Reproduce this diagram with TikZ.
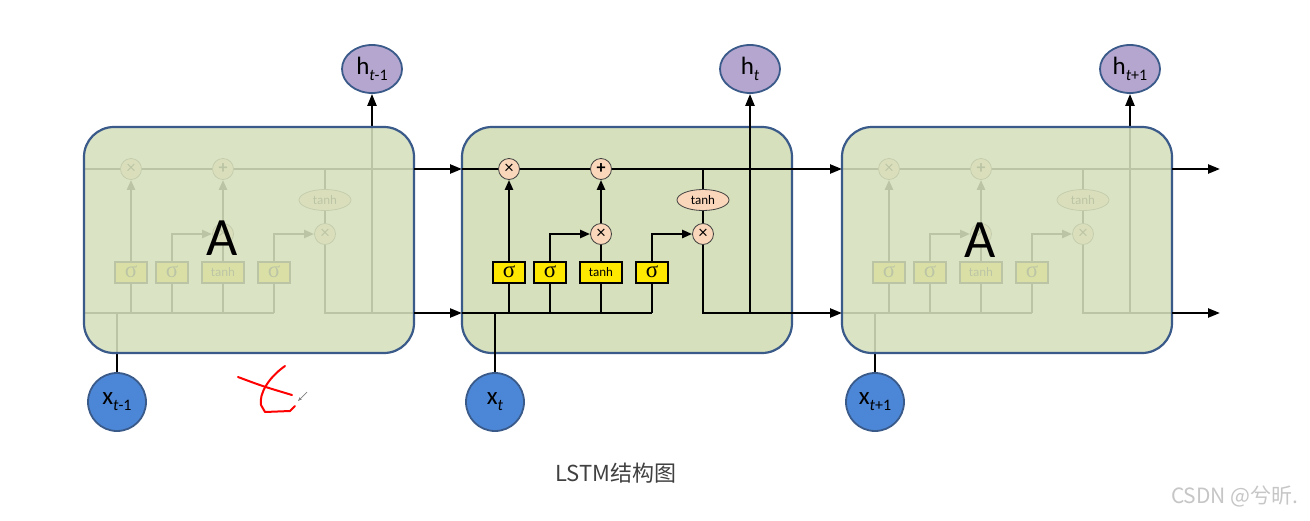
\documentclass[tikz,border=0pt]{standalone}
\usepackage{fontspec}
\setmainfont{Carlito}
\newfontfamily\cjkfont{Noto Sans CJK SC}
\newfontfamily\sigfont{Liberation Serif}
\usepackage{tikz}
\usetikzlibrary{arrows.meta,positioning,shapes.geometric}
\usepackage{xcolor}
\definecolor{cellgreen}{RGB}{214,224,188}
\definecolor{cellblue}{RGB}{58,90,138}
\definecolor{gateyellow}{RGB}{255,232,0}
\definecolor{oppeach}{RGB}{250,214,186}
\definecolor{hpurple}{RGB}{180,166,206}
\definecolor{xblue}{RGB}{76,134,214}
\definecolor{capgray}{RGB}{64,64,64}

\newcommand{\tsub}[1]{\raisebox{-6pt}{\fontsize{16}{16}\selectfont\itshape t\upshape #1}}

% one LSTM cell: #1 name, #2 shift, #3 h label, #4 x label
\newcommand{\cellparts}[4]{%
  \begin{scope}[xshift=#2pt]
    \coordinate (cl#1) at (462,169);
    \coordinate (cr#1) at (792,169);
    \coordinate (hl#1) at (462,313);
    \coordinate (hr#1) at (792,313);
    \coordinate (br#1) at (703,169);
    \coordinate (ob#1) at (703,313);
    \coordinate (bj#1) at (652,313);
    \coordinate (xj#1) at (495,313);
    \coordinate (hv#1) at (750,313);
    \node[opnode] (f#1) at (509,169) {×};
    \node[opnode] (p#1) at (601,169) {\textbf{+}};
    \node[opnode] (i#1) at (601,234) {×};
    \node[opnode] (o#1) at (703,234) {×};
    \node[thnode] (th#1) at (703,200) {tanh};
    \node[gatebox] (sf#1) at (509,272) {σ};
    \node[gatebox] (si#1) at (550,272) {σ};
    \node[gatebox,minimum width=42pt,font=\fontsize{13}{13}\selectfont] (tg#1) at (601,272) {tanh};
    \node[gatebox] (so#1) at (652,272) {σ};
    \node[hnode] (h#1) at (750,69) {#3};
    \node[xnode] (x#1) at (495,402) {#4};
    % cell state and hidden lines
    \draw[flow] (cl#1) -- (f#1) -- (p#1) -- (cr#1);
    \draw[flow] (br#1) -- (th#1) -- (o#1) -- (ob#1) -- (hr#1);
    \draw[flow] (hl#1) -- (bj#1);
    \draw[flow] (sf#1) -- (sf#1 |- hl#1);
    \draw[flow] (si#1) -- (si#1 |- hl#1);
    \draw[flow] (tg#1) -- (tg#1 |- hl#1);
    \draw[flow] (so#1) -- (bj#1);
    % gates
    \draw[arr] (sf#1) -- (f#1);
    \draw[arr] (si#1) |- (i#1);
    \draw[flow] (tg#1) -- (i#1);
    \draw[arr] (i#1) -- (p#1);
    \draw[arr] (so#1) |- (o#1);
    % input and output
    \draw[flow] (x#1) -- (xj#1);
    \draw[bigarr] (hv#1) -- (h#1);
  \end{scope}}

\begin{document}
\begin{tikzpicture}[
    x=1pt, y=-1pt,
    flow/.style={line width=2.3pt},
    arr/.style={flow,-{Triangle[length=10pt,width=8pt]}},
    bigarr/.style={flow,-{Triangle[length=12pt,width=9pt]}},
    cell/.style={rectangle,draw=cellblue,line width=2.2pt,fill=cellgreen,rounded corners=30pt,minimum width=330pt,minimum height=226pt},
    opnode/.style={circle,draw=black!75,line width=0.8pt,fill=oppeach,minimum size=21pt,inner sep=0,font=\fontsize{18}{18}\selectfont},
    thnode/.style={ellipse,draw=black!75,line width=0.8pt,fill=oppeach,minimum width=52pt,minimum height=21pt,inner sep=0,font=\fontsize{13}{13}\selectfont},
    gatebox/.style={rectangle,draw=black,line width=2pt,fill=gateyellow,minimum width=32pt,minimum height=21pt,inner sep=0,font=\sigfont\fontsize{23}{23}\selectfont},
    hnode/.style={ellipse,draw=cellblue,line width=1.8pt,fill=hpurple,minimum width=60pt,minimum height=48pt,inner sep=0,font=\fontsize{25}{25}\selectfont},
    xnode/.style={circle,draw=cellblue,line width=1.8pt,fill=xblue,minimum size=58pt,inner sep=0,font=\fontsize{25}{25}\selectfont},
  ]
  \fill[white] (0,0) rectangle (1310,520);
  \useasboundingbox (0,0) rectangle (1310,520);

  % faded neighbour cells
  \cellparts{L}{-378}{h\tsub{-1}}{x\tsub{-1}}
  \cellparts{R}{380}{h\tsub{+1}}{x\tsub{+1}}
  \node[cell,fill opacity=0.88] (boxL) at (249,240) {};
  \node[cell,fill opacity=0.88] (boxR) at (1007,240) {};
  \node[font=\fontsize{54}{54}\selectfont] (aL) at (222,238) {A};
  \node[font=\fontsize{54}{54}\selectfont] (aR) at (980,240) {A};

  % middle cell
  \node[cell] (boxM) at (627,240) {};
  \cellparts{M}{0}{h\tsub{}}{x\tsub{}}

  % links between cells
  \coordinate (outc) at (1220,169);
  \coordinate (outh) at (1220,313);
  \draw[bigarr] (crL) -- (clM);
  \draw[bigarr] (hrL) -- (hlM);
  \draw[bigarr] (crM) -- (clR);
  \draw[bigarr] (hrM) -- (hlR);
  \draw[bigarr] (crR) -- (outc);
  \draw[bigarr] (hrR) -- (outh);

  % handwritten note
  \draw[red,line width=2pt,line cap=round] (238,377) .. controls (262,386) .. (292,395);
  \draw[red,line width=2pt,line cap=round,line join=round] (285,366) .. controls (268,378) and (259,394) .. (261,405) -- (265,412) -- (290,411) -- (295,406);
  \draw[gray,line width=0.7pt,-{Stealth[length=4pt]}] (307,392) -- (298,401);

  \node[font=\cjkfont\fontsize{22}{22}\selectfont,text=capgray] (cap) at (616,473) {LSTM结构图};
  \node[font=\cjkfont\fontsize{21}{21}\selectfont,text=gray!45,anchor=east] (mark) at (1302,497) {CSDN @兮昕.};
\end{tikzpicture}
\end{document}
